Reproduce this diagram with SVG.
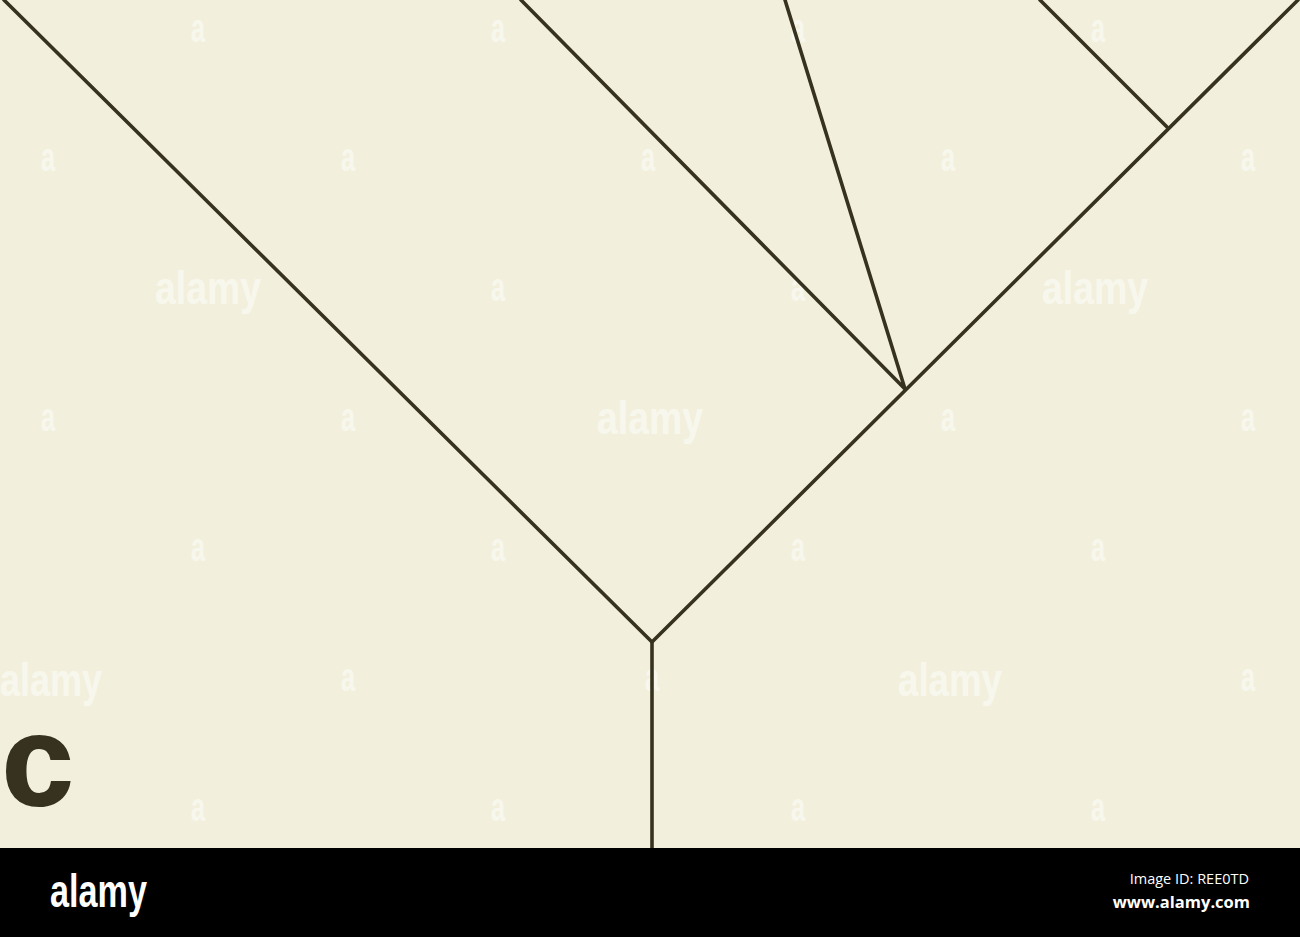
<svg xmlns="http://www.w3.org/2000/svg" width="1300" height="937" viewBox="0 0 1300 937">
<style>
.br{stroke:#36321f;stroke-width:3.6;fill:none;stroke-linecap:round;stroke-linejoin:round}
.wm{font-family:"Liberation Sans",Arial,sans-serif;font-weight:bold;fill:#ffffff;opacity:0.5}
.wa{font-size:40px}
.wl{font-size:46px}
.lab{font-family:"Liberation Sans",Arial,sans-serif;font-weight:bold;font-size:128px;fill:#36321f}
.ft{font-family:"Open Sans","Noto Sans",sans-serif;fill:#ffffff}
</style>
<rect x="0" y="0" width="1300" height="848" fill="#f2f0dc"/>
<g id="watermarks">
<text class="wm wa" x="198" y="42" text-anchor="middle" textLength="14" lengthAdjust="spacingAndGlyphs">a</text>
<text class="wm wa" x="498" y="42" text-anchor="middle" textLength="14" lengthAdjust="spacingAndGlyphs">a</text>
<text class="wm wa" x="798" y="42" text-anchor="middle" textLength="14" lengthAdjust="spacingAndGlyphs">a</text>
<text class="wm wa" x="1098" y="42" text-anchor="middle" textLength="14" lengthAdjust="spacingAndGlyphs">a</text>
<text class="wm wa" x="48" y="171" text-anchor="middle" textLength="14" lengthAdjust="spacingAndGlyphs">a</text>
<text class="wm wa" x="348" y="171" text-anchor="middle" textLength="14" lengthAdjust="spacingAndGlyphs">a</text>
<text class="wm wa" x="648" y="171" text-anchor="middle" textLength="14" lengthAdjust="spacingAndGlyphs">a</text>
<text class="wm wa" x="948" y="171" text-anchor="middle" textLength="14" lengthAdjust="spacingAndGlyphs">a</text>
<text class="wm wa" x="1248" y="171" text-anchor="middle" textLength="14" lengthAdjust="spacingAndGlyphs">a</text>
<text class="wm wl" x="155" y="304" textLength="106" lengthAdjust="spacingAndGlyphs">alamy</text>
<text class="wm wa" x="498" y="301" text-anchor="middle" textLength="14" lengthAdjust="spacingAndGlyphs">a</text>
<text class="wm wa" x="798" y="301" text-anchor="middle" textLength="14" lengthAdjust="spacingAndGlyphs">a</text>
<text class="wm wl" x="1042" y="304" textLength="106" lengthAdjust="spacingAndGlyphs">alamy</text>
<text class="wm wa" x="48" y="431" text-anchor="middle" textLength="14" lengthAdjust="spacingAndGlyphs">a</text>
<text class="wm wa" x="348" y="431" text-anchor="middle" textLength="14" lengthAdjust="spacingAndGlyphs">a</text>
<text class="wm wl" x="597" y="434" textLength="106" lengthAdjust="spacingAndGlyphs">alamy</text>
<text class="wm wa" x="948" y="431" text-anchor="middle" textLength="14" lengthAdjust="spacingAndGlyphs">a</text>
<text class="wm wa" x="1248" y="431" text-anchor="middle" textLength="14" lengthAdjust="spacingAndGlyphs">a</text>
<text class="wm wa" x="198" y="561" text-anchor="middle" textLength="14" lengthAdjust="spacingAndGlyphs">a</text>
<text class="wm wa" x="498" y="561" text-anchor="middle" textLength="14" lengthAdjust="spacingAndGlyphs">a</text>
<text class="wm wa" x="798" y="561" text-anchor="middle" textLength="14" lengthAdjust="spacingAndGlyphs">a</text>
<text class="wm wa" x="1098" y="561" text-anchor="middle" textLength="14" lengthAdjust="spacingAndGlyphs">a</text>
<text class="wm wl" x="0" y="696" textLength="102" lengthAdjust="spacingAndGlyphs">alamy</text>
<text class="wm wa" x="348" y="691" text-anchor="middle" textLength="14" lengthAdjust="spacingAndGlyphs">a</text>
<text class="wm wa" x="652" y="691" text-anchor="middle" textLength="14" lengthAdjust="spacingAndGlyphs">a</text>
<text class="wm wl" x="898" y="696" textLength="104" lengthAdjust="spacingAndGlyphs">alamy</text>
<text class="wm wa" x="1248" y="691" text-anchor="middle" textLength="14" lengthAdjust="spacingAndGlyphs">a</text>
<text class="wm wa" x="198" y="821" text-anchor="middle" textLength="14" lengthAdjust="spacingAndGlyphs">a</text>
<text class="wm wa" x="498" y="821" text-anchor="middle" textLength="14" lengthAdjust="spacingAndGlyphs">a</text>
<text class="wm wa" x="798" y="821" text-anchor="middle" textLength="14" lengthAdjust="spacingAndGlyphs">a</text>
<text class="wm wa" x="1098" y="821" text-anchor="middle" textLength="14" lengthAdjust="spacingAndGlyphs">a</text>
</g>
<g id="connectors">
<path class="br" d="M4,0 L652,642 L1298,0"/>
<path class="br" d="M652,642 L652,850"/>
<path class="br" d="M521,0 L905,389 L785,0"/>
<path class="br" d="M1040,0 L1167,127"/>
</g>
<g id="node-root"><circle cx="652" cy="642" r="0" fill="none"/></g>
<g id="node-1"><circle cx="905" cy="389" r="0" fill="none"/></g>
<g id="node-2"><circle cx="1167" cy="127" r="0" fill="none"/></g>
<g id="label-c"><text class="lab" x="2" y="805" stroke="#36321f" stroke-width="2">c</text></g>
<g id="footer">
<rect x="0" y="848" width="1300" height="89" fill="#000000"/>
<text x="50" y="907" font-family="Liberation Sans, Arial, sans-serif" font-weight="bold" font-size="47" fill="#ffffff" textLength="97" lengthAdjust="spacingAndGlyphs">alamy</text>
<text class="ft" x="1249" y="884" text-anchor="end" font-size="14.5">Image ID: REE0TD</text>
<text class="ft" x="1250" y="908" text-anchor="end" font-size="16.5" font-weight="bold">www.alamy.com</text>
</g>
</svg>
